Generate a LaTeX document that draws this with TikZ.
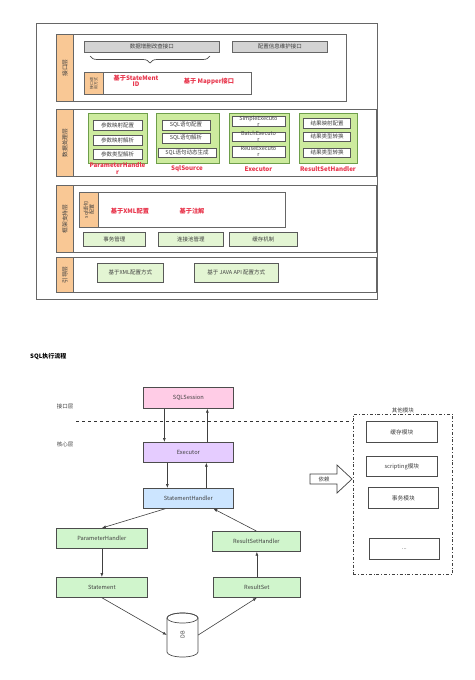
\documentclass[tikz,border=0pt]{standalone}
\usepackage{fontspec}
\setmainfont{Noto Sans CJK SC}
\usetikzlibrary{positioning, arrows.meta, decorations.pathreplacing}
\definecolor{peach}{HTML}{F9C895}
\definecolor{greyfill}{HTML}{D3D3D3}
\definecolor{lime}{HTML}{CDEB9E}
\definecolor{limeline}{HTML}{6E9E4A}
\definecolor{mint}{HTML}{E3F5D3}
\definecolor{redtxt}{HTML}{E8334A}
\definecolor{pinkfill}{HTML}{FFCCE6}
\definecolor{lilac}{HTML}{E5CCFF}
\definecolor{skyfill}{HTML}{CCE5FF}
\definecolor{leaf}{HTML}{D0F5CC}
\tikzset{
x=1pt, y=-1pt, % one unit is one pixel of the reference, y runs down
every node/.style={inner sep=0pt, font=\fontsize{5.5}{6.2}\selectfont, text=black!75},
layer/.style={draw=black!60, line width=0.8pt, fill=white, anchor=north west},
strip/.style={draw=black!60, line width=0.8pt, fill=peach, anchor=north west},
vtxt/.style={rotate=90, font=\fontsize{5.8}{6.8}\selectfont, align=center},
greybox/.style={draw=black!60, line width=0.7pt, fill=greyfill, anchor=north west},
limebox/.style={draw=limeline, line width=0.9pt, fill=lime, anchor=north west},
wbox/.style={draw=black!65, line width=0.6pt, fill=white},
mintbox/.style={draw=black!65, line width=0.7pt, fill=mint, anchor=north west},
redlbl/.style={text=redtxt, font=\fontsize{6.2}{6.6}\selectfont\bfseries, align=center},
flowbox/.style={draw=black!70, line width=0.7pt, anchor=north west, font=\fontsize{5.7}{6.5}\selectfont},
flow/.style={-{Latex[length=4pt,width=3pt]}, draw=black!75, line width=0.6pt},
}
\begin{document}
\begin{tikzpicture}
\useasboundingbox[fill=white] (0,0) rectangle (474,680);

% upper frame
\node[layer, minimum width=341, minimum height=276] (frame) at (36,23) {};

% interface layer
\node[layer, minimum width=290, minimum height=67] (L1) at (56,34) {};
\node[strip, minimum width=17, minimum height=67] (L1s) at (L1.north west) {};
\node[vtxt] at (L1s) {接口层};
\node[greybox, minimum width=135, minimum height=11] (crud) at (84,41) {数据增删改查接口};
\node[greybox, minimum width=95, minimum height=11] (cfg) at (232,41) {配置信息维护接口};
\draw[decorate, decoration={brace, mirror, amplitude=7pt}, draw=black!70, line width=0.7pt]
    (90,56) -- (210,56);
\node[layer, line width=0.7pt, minimum width=167, minimum height=22] (call) at (84,72) {};
\node[strip, line width=0.7pt, minimum width=19, minimum height=22] (calls) at (call.north west) {};
\node[vtxt, font=\fontsize{3.8}{4.4}\selectfont] at (calls) {接口调\\用方式};
\node[redlbl] (byid) at (136,81) {基于StateMent\\ID};
\node[redlbl] (bymap) at (209,81) {基于 Mapper接口};

% data processing layer
\node[layer, minimum width=320, minimum height=67] (L2) at (56,109) {};
\node[strip, minimum width=17, minimum height=67] (L2s) at (L2.north west) {};
\node[vtxt] at (L2s) {数据处理层};

\node[limebox, minimum width=59, minimum height=50] (ph0) at (88,113) {};
\node[wbox, minimum width=49, minimum height=10] (ph1) at (117.5,125) {参数映射配置};
\node[wbox, minimum width=49, minimum height=10] (ph2) at (117.5,140) {参数映射解析};
\node[wbox, minimum width=49, minimum height=10] (ph3) at (117.5,154) {参数类型解析};
\node[redlbl] at (117.5,168.5) {ParameterHandle\\r};

\node[limebox, minimum width=63, minimum height=50] (ss0) at (156,113) {};
\node[wbox, minimum width=48, minimum height=10] (ss1) at (186,125) {SQL语句配置};
\node[wbox, minimum width=48, minimum height=10] (ss2) at (186,138) {SQL语句解析};
\node[wbox, minimum width=58, minimum height=9] (ss3) at (187,152.5) {SQL语句动态生成};
\node[redlbl] at (187,169) {SqlSource};

\node[limebox, minimum width=60, minimum height=50] (ex0) at (229,113) {};
\node[wbox, minimum width=53, minimum height=10] (ex1) at (258.5,121) {};
\node[align=center] at (ex1) {SimpleExecuto\\r};
\node[wbox, minimum width=53, minimum height=9] (ex2) at (258.5,136.5) {};
\node[align=center] at (ex2) {BatchExecuto\\r};
\node[wbox, minimum width=53, minimum height=11] (ex3) at (258.5,151.5) {};
\node[align=center] at (ex3) {ReuseExecuto\\r};
\node[redlbl] at (258.5,169) {Executor};

\node[limebox, minimum width=58, minimum height=50] (rh0) at (299,113) {};
\node[wbox, minimum width=47, minimum height=10] (rh1) at (327,123) {结果映射配置};
\node[wbox, minimum width=47, minimum height=9] (rh2) at (327,136.5) {结果类型转换};
\node[wbox, minimum width=47, minimum height=9] (rh3) at (327,152.5) {结果类型转换};
\node[redlbl] at (328,169) {ResultSetHandler};

% framework support layer
\node[layer, minimum width=320, minimum height=67] (L3) at (56,185) {};
\node[strip, minimum width=17, minimum height=67] (L3s) at (L3.north west) {};
\node[vtxt] at (L3s) {框架支持层};
\node[layer, line width=0.7pt, minimum width=206, minimum height=35] (sqlc) at (79,192) {};
\node[strip, line width=0.7pt, minimum width=19, minimum height=35] (sqlcs) at (sqlc.north west) {};
\node[vtxt, font=\fontsize{5}{5.6}\selectfont] at (sqlcs) {sql语句\\配置};
\node[redlbl] (byxml) at (130,211) {基于XML配置};
\node[redlbl] (byann) at (192,211) {基于注解};
\node[mintbox, minimum width=62, minimum height=14] (tx) at (83,232) {事务管理};
\node[mintbox, minimum width=65, minimum height=14] (pool) at (158,232) {连接池管理};
\node[mintbox, minimum width=68, minimum height=14] (cache) at (229,232) {缓存机制};

% boot layer
\node[layer, minimum width=320, minimum height=35] (L4) at (56,257) {};
\node[strip, minimum width=17, minimum height=35] (L4s) at (L4.north west) {};
\node[vtxt] at (L4s) {引导层};
\node[mintbox, minimum width=66, minimum height=19] (bxml) at (97,263) {基于XML配置方式};
\node[mintbox, minimum width=84, minimum height=19] (bapi) at (194,263) {基于 JAVA API 配置方式};

% sql flow
\node[anchor=west, font=\fontsize{6}{7}\selectfont\bfseries, text=black] (title) at (30,357) {SQL执行流程};
\node (lyi) at (65,406) {接口层};
\node (lyc) at (65,444) {核心层};
\node[flowbox, fill=pinkfill, minimum width=90, minimum height=21] (sess) at (143,387) {SQLSession};
\node[flowbox, fill=lilac, minimum width=90, minimum height=20] (exe) at (143,442) {Executor};
\node[flowbox, fill=skyfill, minimum width=90, minimum height=20] (sh) at (143,488) {StatementHandler};
\node[flowbox, fill=leaf, minimum width=91, minimum height=20] (ph) at (56,528) {ParameterHandler};
\node[flowbox, fill=leaf, minimum width=88, minimum height=20] (rh) at (212,531) {ResultSetHandler};
\node[flowbox, fill=leaf, minimum width=91, minimum height=20] (st) at (56,577) {Statement};
\node[flowbox, fill=leaf, minimum width=87, minimum height=20] (rs) at (213,577) {ResultSet};
\node[minimum width=31, minimum height=44] (db) at (182.5,635) {};
\draw[draw=black!70, line width=0.7pt, fill=white]
    (167,618) -- (167,652) arc[start angle=180, end angle=360, x radius=15.5pt, y radius=5pt]
    -- (198,618) arc[start angle=0, end angle=180, x radius=15.5pt, y radius=5pt] -- cycle;
\draw[draw=black!70, line width=0.7pt] (182.5,618) ellipse [x radius=15.5pt, y radius=5pt];
\node[rotate=90] at (db) {DB};

% other modules
\node[draw=black!75, line width=0.7pt, dash dot, anchor=north west, minimum width=99, minimum height=160] (oth) at (353,414) {};
\node[anchor=south, yshift=1pt] at (oth.north) {其他模块};
\node[flowbox, minimum width=71, minimum height=21] (m1) at (366,421) {缓存模块};
\node[flowbox, minimum width=71, minimum height=20] (m2) at (366,456) {scripting模块};
\node[flowbox, minimum width=70, minimum height=21] (m3) at (368,487) {事务模块};
\node[flowbox, minimum width=70, minimum height=21] (m4) at (369,538) {...};
\draw[draw=black!75, line width=0.7pt, fill=white]
    (310,474) -- (337,474) -- (337,465) -- (352,479) -- (337,493) -- (337,484) -- (310,484) -- cycle;
\node (dep) at (324,479) {依赖};

\coordinate (sep) at (76,421);
\draw[dashed, draw=black!80, line width=0.7pt] (sep) -- (sep -| oth.west);

\draw[flow] ([xshift=-24]sess.south) -- ([xshift=-24]exe.north);
\draw[flow] ([xshift=19]exe.north) -- ([xshift=19]sess.south);
\draw[flow] ([xshift=-21]exe.south) -- ([xshift=-21]sh.north);
\draw[flow] ([xshift=18]sh.north) -- ([xshift=18]exe.south);
\draw[flow] ([xshift=-23]sh.south) -- (ph.north);
\draw[flow] (rh.north) -- ([xshift=25]sh.south);
\draw[flow] (ph.south) -- (st.north);
\draw[flow] (rs.north) -- (rs.north |- rh.south);
\draw[flow] (st.south) -- (db.west);
\draw[flow] (db.east) -- (rs.south);
\end{tikzpicture}
\end{document}
